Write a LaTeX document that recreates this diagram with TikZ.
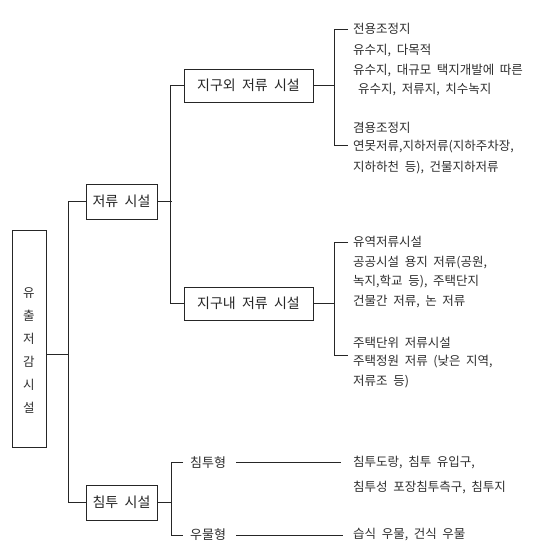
\documentclass[tikz,border=0pt]{standalone}
\usepackage{fontspec}
\setmainfont{Noto Sans CJK KR}[WordSpace=2]
\begin{document}
\begin{tikzpicture}[x=1pt,y=-1pt]
\tikzset{
 box/.style={draw=black!85, line width=1pt, inner sep=0pt, font=\fontsize{14}{16}\selectfont, text=black!85},
 conn/.style={draw=black!85, line width=0.9pt},
 desc/.style={anchor=west, inner sep=0pt, font=\fontsize{12.5}{14}\selectfont, text=black!82},
 typ/.style={anchor=west, inner sep=0pt, font=\fontsize{13}{15}\selectfont, text=black!82},
}
\useasboundingbox[fill=white] (0,0) rectangle (550,555);
% root
\node[box, minimum width=34pt, minimum height=217pt] (root) at (29,338.5) {};
\node[align=center, inner sep=0pt, font=\fontsize{12.5}{23}\selectfont, text=black!82] (rootlabel) at (29,350) {유\\출\\저\\감\\시\\설};
% level 1
\node[box, minimum width=71pt, minimum height=35pt] (s1) at (121.5,201.5) {저류 시설};
\node[box, minimum width=71pt, minimum height=35pt] (s2) at (121.5,502.5) {침투 시설};
% level 2
\node[box, minimum width=129pt, minimum height=33pt] (a1) at (248.5,85.5) {지구외 저류 시설};
\node[box, minimum width=129pt, minimum height=33pt] (a2) at (248.5,303.5) {지구내 저류 시설};
% upper descriptions
\node[desc] (u1) at (353,29.3) {전용조정지};
\node[desc] (u2) at (353,50.7) {유수지, 다목적};
\node[desc] (u3) at (353,71) {유수지, 대규모 택지개발에 따른};
\node[desc] (u4) at (358,89.3) {유수지, 저류지, 치수녹지};
\node[desc] (u5) at (353,128) {겸용조정지};
\node[desc] (u6) at (353,147) {연못저류,지하저류(지하주차장,};
\node[desc] (u7) at (353,168) {지하하천 등), 건물지하저류};
% lower descriptions
\node[desc] (l1) at (353,242) {유역저류시설};
\node[desc] (l2) at (353,263) {공공시설 용지 저류(공원,};
\node[desc] (l3) at (353,282) {녹지,학교 등), 주택단지};
\node[desc] (l4) at (353,302) {건물간 저류, 논 저류};
\node[desc] (l5) at (353,343) {주택단위 저류시설};
\node[desc] (l6) at (353,362) {주택정원 저류 (낮은 지역,};
\node[desc] (l7) at (353,382) {저류조 등)};
% infiltration
\node[typ] (p1) at (190,462.5) {침투형};
\node[typ] (p2) at (190,535) {우물형};
\node[desc] (d1) at (353,462.5) {침투도랑, 침투 유입구,};
\node[desc] (d2) at (353,487) {침투성 포장침투측구, 침투지};
\node[desc] (d3) at (353,535) {습식 우물, 건식 우물};
% connectors
\coordinate (j1) at (69,354);
\coordinate (bj) at (171,502.5);
\draw[conn] (root.east |- j1) -- (j1);
\draw[conn] (s1.west) -- ++(-17,0) |- (s2.west);
\draw[conn] (s1.east) -- ++(14,0);
\draw[conn] (a1.west) -- ++(-13,0) |- (a2.west);
\draw[conn] (a1.east) -- ++(21,0);
\draw[conn] (a2.east) -- ++(21,0);
\draw[conn] ([xshift=-5pt]u1.west) -- ++(-14,0) |- ([xshift=-5pt,yshift=2pt]u6.west);
\draw[conn] ([xshift=-5pt]l1.west) -- ++(-14,0) |- ([xshift=-5pt,yshift=7pt]l6.west);
\draw[conn] (s2.east) -- (bj);
\draw[conn] ([xshift=-7pt]p1.west) -- ++(-12,0) |- ([xshift=-7pt]p2.west);
\draw[conn] ([xshift=10pt]p1.east) -- ([xshift=-12pt]d1.west);
\draw[conn] ([xshift=10pt]p2.east) -- ([xshift=-10pt]d3.west);
\end{tikzpicture}
\end{document}
